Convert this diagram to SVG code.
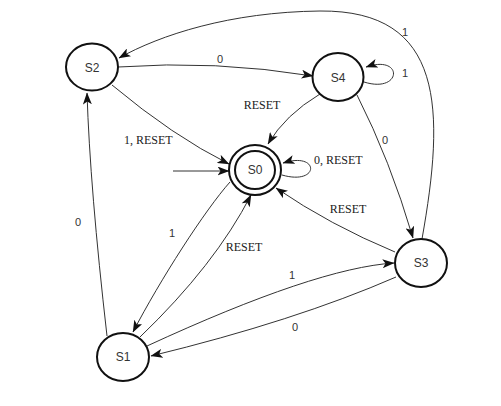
<svg xmlns="http://www.w3.org/2000/svg" width="501" height="406" viewBox="0 0 501 406">
<style>
.node{fill:#fff;stroke:#111;stroke-width:2}
.nl{font-family:"Liberation Sans",Arial,sans-serif;font-size:12px;fill:#333;text-anchor:middle}
.e{fill:none;stroke:#333;stroke-width:1;marker-end:url(#arr)}
.el{font-family:"Liberation Serif","Times New Roman",serif;font-size:12px;fill:#222}
.d{font-family:"Liberation Sans",Arial,sans-serif;font-size:11px;fill:#333;text-anchor:middle}
</style>
<defs>
<marker id="arr" markerUnits="userSpaceOnUse" markerWidth="12" markerHeight="9" viewBox="0 0 12 9" refX="11.5" refY="4.5" orient="auto">
<path d="M0,0 L12,4.5 L0,9 L3,4.5 z" fill="#111"/>
</marker>
</defs>
<rect width="501" height="406" fill="#fff"/>
<g id="edges">
<path class="e" d="M118,67 Q215,60 313,76"/>
<path class="e" d="M364,82 C402,94 404,54 366,67"/>
<path class="e" d="M422,239 C445,110 445,10 320,11 C230,12 160,35 119,58"/>
<path class="e" d="M320,94 Q285,115 268,144"/>
<path class="e" d="M112,85 Q173,136 229,164"/>
<path class="e" d="M173,171 L229,171"/>
<path class="e" d="M282,175 C320,186 320,151 283,163"/>
<path class="e" d="M357,95 Q390,160 413,238"/>
<path class="e" d="M395,252 Q330,225 276,188"/>
<path class="e" d="M230,182 C205,210 160,280 133,332"/>
<path class="e" d="M140,337 Q215,265 251,195"/>
<path class="e" d="M147,346 Q316,268 394,263"/>
<path class="e" d="M396,277 Q295,321 151,356"/>
<path class="e" d="M107,336 Q90,188 87,93"/>
</g>
<g id="edge-labels">
<text class="d" x="220" y="63">0</text>
<text class="d" x="405" y="77">1</text>
<text class="d" x="405" y="36">1</text>
<text class="el" x="262" y="109" text-anchor="middle">RESET</text>
<text class="el" x="124" y="144">1, RESET</text>
<text class="el" x="314" y="164">0, RESET</text>
<text class="d" x="385" y="144">0</text>
<text class="el" x="348" y="213" text-anchor="middle">RESET</text>
<text class="d" x="172" y="237">1</text>
<text class="el" x="244" y="251" text-anchor="middle">RESET</text>
<text class="d" x="292" y="279">1</text>
<text class="d" x="295" y="331">0</text>
<text class="d" x="78" y="226">0</text>
</g>
<g id="S2"><ellipse class="node" cx="92" cy="67" rx="26" ry="23.5"/><text class="nl" x="92" y="72">S2</text></g>
<g id="S4"><ellipse class="node" cx="338" cy="77" rx="25.5" ry="24"/><text class="nl" x="338" y="82">S4</text></g>
<g id="S0"><ellipse class="node" cx="255" cy="170" rx="26" ry="25"/><ellipse class="node" cx="255" cy="170" rx="20" ry="19"/><text class="nl" x="255" y="174">S0</text></g>
<g id="S1"><ellipse class="node" cx="123" cy="357" rx="26" ry="24"/><text class="nl" x="123" y="361">S1</text></g>
<g id="S3"><ellipse class="node" cx="421" cy="263" rx="26" ry="24"/><text class="nl" x="421" y="267">S3</text></g>
</svg>
